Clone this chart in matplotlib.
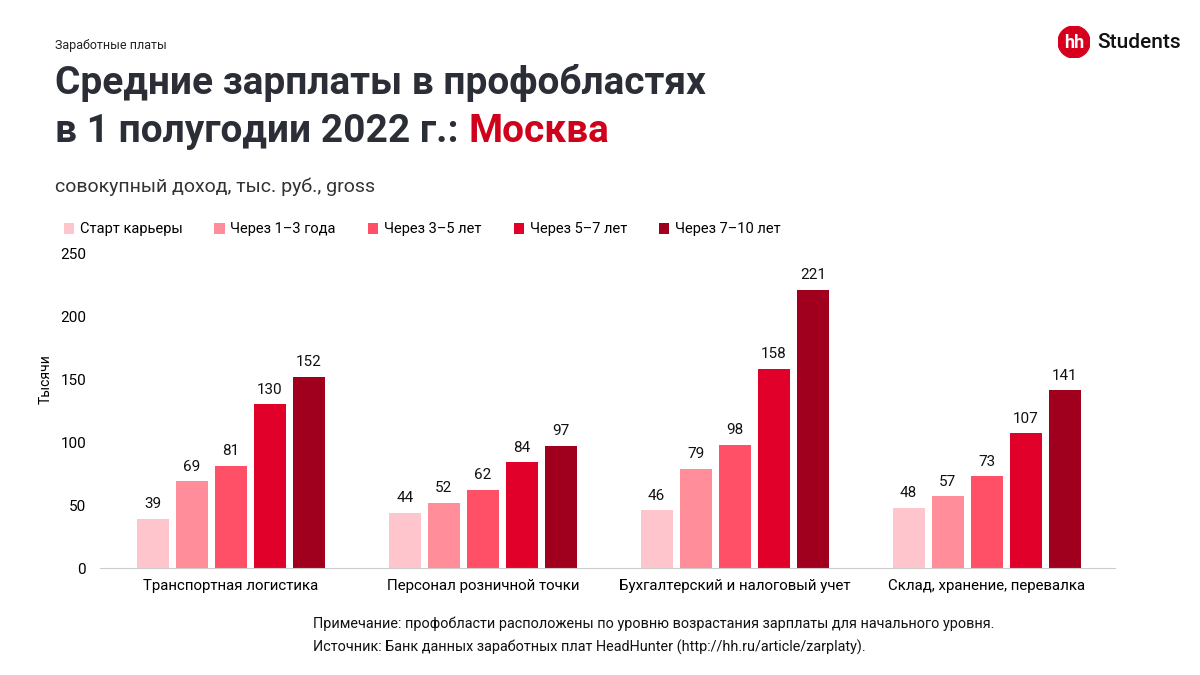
import matplotlib
matplotlib.use("Agg")
import matplotlib.pyplot as plt
import numpy as np
from matplotlib.patches import Circle

plt.rcParams["font.family"] = "Roboto"

categories = ["Транспортная логистика", "Персонал розничной точки",
              "Бухгалтерский и налоговый учет", "Склад, хранение, перевалка"]
series_names = ["Старт карьеры", "Через 1–3 года", "Через 3–5 лет", "Через 5–7 лет", "Через 7–10 лет"]
start = [39, 44, 46, 48]
y1_3 = [69, 52, 79, 57]
y3_5 = [81, 62, 98, 73]
y5_7 = [130, 84, 158, 107]
y7_10 = [152, 97, 221, 141]
series = [start, y1_3, y3_5, y5_7, y7_10]
colors = ["#FFC5CC", "#FF8E9A", "#FF5068", "#E0002A", "#A0001E"]
yticks = [0, 50, 100, 150, 200, 250]

fig = plt.figure(figsize=(12, 6.75), dpi=100)
ax = fig.add_axes([0.0833, 0.1585, 0.846, 0.4665])
x = np.arange(len(categories))
step, w = 0.155, 0.127
for i, (vals, c) in enumerate(zip(series, colors)):
    xs = x + (i - 2) * step
    ax.bar(xs, vals, width=w, color=c, label=series_names[i])
    for xi, v in zip(xs, vals):
        ax.text(xi, v + 6, str(v), ha="center", va="bottom", fontsize=11, color="#111")
ax.set_xlim(-0.52, 3.51)
ax.set_ylim(0, 250)
ax.set_yticks(yticks)
ax.set_xticks(x)
ax.set_xticklabels(categories, fontsize=10.8)
ax.tick_params(axis="y", length=0, labelsize=11, pad=10)
ax.tick_params(axis="x", length=0, pad=8)
for s in ["top", "right", "left"]:
    ax.spines[s].set_visible(False)
ax.spines["bottom"].set_color("#cccccc")
ax.set_ylabel("Тысячи", fontsize=10, labelpad=-2)
ax.yaxis.set_label_coords(-0.047, 0.6)

leg = fig.legend(loc="upper left", bbox_to_anchor=(0.042, 0.69), ncol=5, frameon=False,
                 fontsize=10.5, handlelength=0.7, handleheight=0.8, handletextpad=0.4,
                 columnspacing=2.2)

tc = "#2B2E36"
fig.text(0.046, 0.928, "Заработные платы", fontsize=9, color="#222")
fig.text(0.046, 0.86, "Средние зарплаты в профобластях", fontsize=28, weight="bold", color=tc)
t = fig.text(0.046, 0.79, "в 1 полугодии 2022 г.: ", fontsize=28, weight="bold", color=tc)
fig.canvas.draw()
bb = t.get_window_extent()
fig.text(bb.x1 / 1200, 0.79, "Москва", fontsize=28, weight="bold", color="#D0021B")
fig.text(0.046, 0.715, "совокупный доход, тыс. руб., gross", fontsize=14, color="#333")
fig.text(0.261, 0.069, "Примечание: профобласти расположены по уровню возрастания зарплаты для начального уровня.",
         fontsize=10.4, color="#111")
fig.text(0.261, 0.034, "Источник: Банк данных заработных плат HeadHunter (http://hh.ru/article/zarplaty).",
         fontsize=10.4, color="#111")

lax = fig.add_axes([1058 / 1200, 1 - 58 / 675, 32 / 1200, 32 / 675])
lax.add_patch(Circle((0.5, 0.5), 0.5, color="#D6001C"))
lax.set_xlim(0, 1); lax.set_ylim(0, 1); lax.set_aspect("equal"); lax.axis("off")
lax.text(0.5, 0.47, "hh", ha="center", va="center", color="white", fontsize=13, weight="bold")
fig.text(1097 / 1200, 1 - 42 / 675, "Students", fontsize=15, va="center", color="#111", weight="medium")

fig.savefig("out.png", dpi=100)
